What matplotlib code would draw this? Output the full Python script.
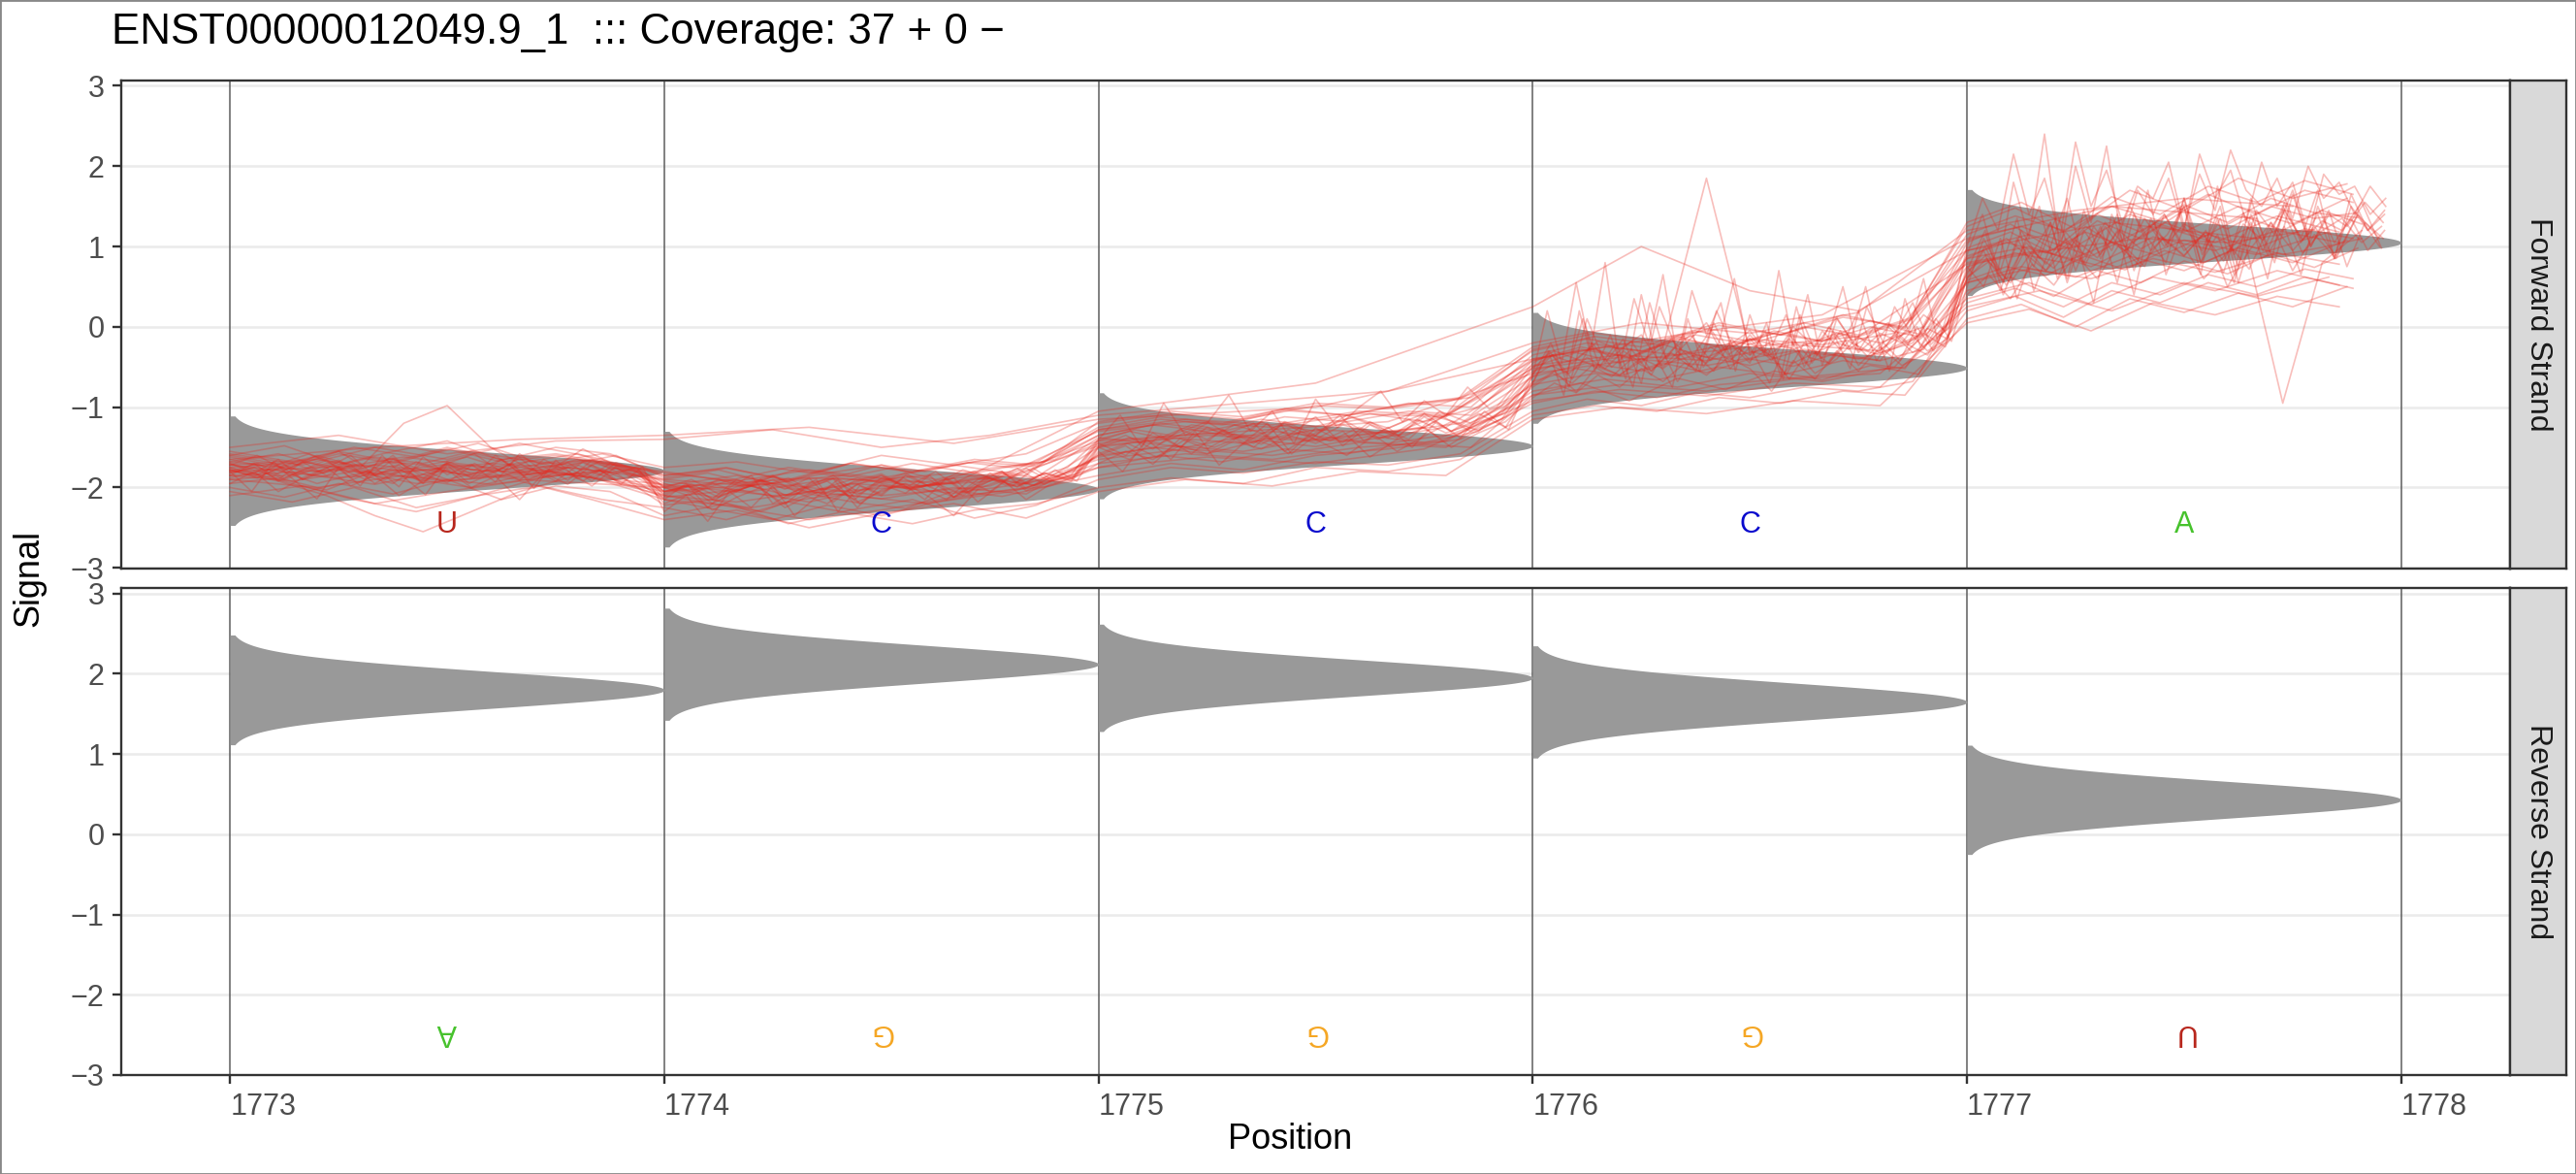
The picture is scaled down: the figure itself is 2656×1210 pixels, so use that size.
import numpy as np
import matplotlib
matplotlib.use("Agg")
import matplotlib.pyplot as plt
from matplotlib.patches import Rectangle

plt.rcParams['font.family'] = ['Liberation Sans', 'DejaVu Sans']

# ---------------- data ----------------
title = "ENST00000012049.9_1  ::: Coverage: 37 + 0 \u2212"
positions = [1773, 1774, 1775, 1776, 1777]
x_ticks = [1773, 1774, 1775, 1776, 1777, 1778]
y_ticks = [-3, -2, -1, 0, 1, 2, 3]
fwd_bases = ["U", "C", "C", "C", "A"]
rev_bases = ["A", "G", "G", "G", "U"]
fwd_mean = [-1.79, -2.02, -1.48, -0.51, 1.05]
fwd_sd = [0.227, 0.24, 0.22, 0.23, 0.22]
rev_mean = [1.80, 2.12, 1.95, 1.65, 0.43]
rev_sd = [0.228, 0.233, 0.223, 0.233, 0.227]
base_colors = {"A": "#46C22C", "C": "#0A0ACD", "G": "#F5A623", "U": "#B8261C"}
strip_labels = ["Forward Strand", "Reverse Strand"]

# 37 reads (forward strand), signal in hundredths, one group per position
reads = [
 "-170 -182 -165 -190 -176 -160 -185 -172 -194 -168 -178 -181 -163 -187 -175 -192 -169 -180|-205 -198 -214 -190 -202 -221 -196 -188 -209 -193 -185 -190 -212 -200 -182 -195 -188 -178|-160 -148 -171 -139 -152 -133 -146 -128 -140 -122 -131 -155 -136 -118 -129 -112|-72 -55 -81 -48 -60 -39 -52 -30 -45 -21 -35 -18 -27 -58 -40 -12 -33 -20 -8 -25|62 81 55 94 73 108 86 120 97 112 89 118 104 72 130 95 125 88 140 110",
 "-172 -188 -176 -183|-196 -210 -201 -192|-142 -130 -118|-58 -40 -25 -12|78 96 110 105 121",
 "-195 -188 -203 -179 -191 -200 -186 -175 -182|-222 -215 -230 -208 -219 -226 -204 -211 -198|-175 -160 -168 -152 -158 -145 -150|-85 -70 -92 -64 -78 -55 -66 -48 -59|45 62 38 70 55 82 66 91 74 98",
 "-160 -148 -171 -155 -142 -166 -150 -158|-185 -176 -190 -170 -181 -168 -174|-128 -115 -122 -104 -110 -96 -88|-42 -25 -38 -12 -28 -5 -18 8 -9|105 128 96 140 118 152 130 160 142 136",
 "-180 -205 -168 -192 -214 -175 -198 -160 -187 -209 -172 -195 -183 -170 -201 -166 -189 -178 -196 -174|-230 -210 -242 -205 -225 -198 -235 -212 -190 -220 -203 -196 -215 -188 -208 -182 -199 -176 -193 -185|-155 -180 -140 -165 -130 -172 -145 -120 -158 -135 -110 -142 -125 -150 -118 -138 -105 -128|-60 -20 -75 10 -45 -15 -70 25 -30 -55 5 -40 -10 -35 15 -50 -5 -28 20 -42 -8 30 -22 0|70 120 40 95 150 60 110 30 140 85 170 65 125 95 150 55 135 80 165 100 145 75 130 110",
 "-150 -135 -158 -142|-140 -128 -150 -135|-110 -95 -80|-20 5 -8 18|120 145 160 150",
 "-188 -176 -195 -182 -170 -190 -178 -185 -172 -193|-200 -212 -195 -206 -188 -201 -194 -183 -190|-162 -150 -158 -141 -149 -136 -144 -130|-68 -52 -61 -45 -57 -40 -49 -33 -42 -28|58 75 64 88 71 95 80 102 90 99 110",
 "-178 -192 -210 -235 -255 -230 -205 -188 -175|-215 -228 -240 -222 -235 -218 -206 -199|-185 -170 -178 -160 -152 -140|-95 -80 -88 -72 -65 -58 -50|30 48 25 55 40 65 50 72 60",
 "-165 -175 -158 -180 -168 -172 -162 -177 -170 -166 -174|-190 -182 -195 -178 -186 -172 -180 -169 -175 -165|-135 -122 -130 -115 -124 -108 -118 -100|-50 -32 -45 -22 -38 -15 -28 -8 -20 0|88 105 92 118 100 130 112 138 120 145 128",
 "-170 -185 -160 -175 -120 -98 -150 -180 -165 -178|-205 -190 -210 -195 -200 -188 -197|-150 -138 -145 -128 -132 -120|-62 -45 -55 -35 -48 -28 -40 -20|75 92 80 105 88 115 98 122 110",
 "-185 -170 -192 -178 -166 -188 -175 -199 -162 -184 -171 -193 -158 -180 -169 -187 -176 -181|-210 -198 -220 -205 -192 -214 -200 -189 -225 -196 -207 -185 -212 -194 -180 -201 -188 -178|-145 -160 -132 -150 -125 -140 -118 -135 -112 -148 -122 -138 -108 -130 -115 -98|-70 -30 -85 20 -55 -10 -65 40 -40 -75 10 -50 -20 60 -35 -5 -62 25 -45 -15 50 -30 0 -55 35 -25 10 -18|50 110 70 135 45 100 160 80 125 55 140 95 115 150 65 175 90 130 60 155 105 140 85 165 120 145",
 "-175 -168 -182 -171 -179 -165|-198 -185 -205 -190 -182 -195|-138 -150 -130 -142 -125|-55 -40 -60 -25 185 -30 -45 -20 -35 -10|85 100 75 112 95 120 105",
 "-180 -172 -190|-200 -188 -195|-105 -70|25 100 45 20|95 130 110",
 "-200 -212 -195 -208 -190 -215 -198 -205|-235 -220 -245 -228 -215 -238 -222|-190 -175 -182 -168 -172 -158|-105 -90 -98 -82 -88 -75 -80 -68|20 38 12 45 30 55 40 62 48",
 "-155 -168 -150 -162 -145 -170 -158|-175 -168 -182 -160 -172 -158|-120 -108 -115 -98 -102 -90|-30 -15 -25 -5 -18 5 -10 12|115 138 120 150 132 165 140 170 155",
 "-182 -175 -190 -168 -185 -172 -195 -178 -188 -170 -183 -176 -191 -165 -180 -198 -174 -186|-208 -196 -215 -202 -190 -210 -198 -185 -205 -192 -182 -199 -188 -218 -195 -176 -192 -184|-158 -145 -162 -140 -150 -135 -148 -130 -142 -125 -138 -115 -132 -120 -108|-75 -58 -70 -48 -62 -40 -55 -32 -50 -25 -42 -20 -35 -65 -28 -45 -12 -38 -22 -5 -30 -15|60 85 52 98 70 110 78 125 90 135 100 128 115 68 142 95 150 108 132 120 155 98",
 "-168 -180 -162 -175 -158|-192 -205 -188 -198 -185|-148 -135 -142 -125|-48 -35 -42 -22 -30|80 95 72 108 90 118",
 "-205 -218 -200 -225 -210 -198 -215|-225 -240 -218 -232 -245 -228 -220|-200 -188 -195 -175 -180 -165|-110 -98 -105 -88 -95 -80 -85|10 28 0 35 18 42 25 50",
 "-176 -185 -170 -182 -174 -190 -168 -180 -187 -172 -179 -184 -166 -178|-198 -206 -192 -200 -188 -210 -195 -185 -203 -191 -180 -197 -186 -175|-140 -128 -135 -118 -145 -122 -130 -112 -126 -108 -120 -100|-45 -30 -40 -18 -28 -10 -50 -22 5 -35 -15 -42 0 -25 12 -32 -8 -20 15 -5|90 140 70 180 110 240 95 200 130 225 105 170 140 185 120 215 160 195 130 205 150 180 115 190 165 175 140 160",
 "-190 -183 -196 -178 -188 -181|-212 -203 -218 -198 -207 -195|-165 -152 -160 -144 -150|-80 -65 -75 -58 -68 -50|55 72 60 85 68 92 78",
 "-172 -160 -178 -166 -155 -175 -163 -185 -170 -158 -181 -167 -174 -152 -169 -176|-215 -195 -225 -200 -185 -220 -205 -190 -230 -198 -210 -188 -202 -215 -192 -205 -185 -198 -178 -192|-150 -165 -135 -158 -128 -145 -120 -140 -160 -132 -115 -138 -125 -108|-58 -35 -65 -20 -50 -28 -60 -15 -40 -5 -52 -25 -70 -10 -38 -45 -18 -30 0 -22 -35 5|68 90 60 105 78 118 88 130 100 75 140 95 115 82 128 108 145 92 120 135 105 125",
 "-185 -178 -192 -180|-205 -195 -210 -198|-145 -132 -140 -125|-52 -38 -48 -30 -42|85 110 70 125 95 140 60 115 -95 80 120",
 "-162 -175 -158 -170 -152 -168 -160 -172|-180 -192 -175 -186 -170 -182 -168|-125 -112 -120 -102 -110 -95 -100|-35 -20 -30 -10 -22 0 -12 10|108 125 100 140 118 150 128 160",
 "-165 -150 -140|-135 -125 -145|-115 -100|-40 -10 15|110 150 135",
 "-195 -180 -205 -188 -175 -198 -185 -210 -192 -178 -200 -186 -215 -182 -196 -172 -190 -184|-220 -208 -228 -212 -200 -225 -210 -198 -218 -205 -195 -212 -235 -202 -190 -215 -196 -188|-170 -155 -165 -148 -158 -142 -152 -135 -145 -130 -162 -140 -125 -150 -132 -118|-88 -70 -82 -60 -75 -52 -68 -45 -60 -38 -52 -80 -42 -65 -30 -55 -25 -48 -35 -20|40 65 35 78 52 90 60 102 75 110 88 120 50 95 130 70 115 85 140 100",
 "-172 -165 -180 -170 -176|-190 -198 -185 -193 -180|-130 -118 -125 -108 -112|-40 -25 -35 -15 -22 -8|95 115 88 128 105 138 118",
 "-180 -170 -188 -175 -166 -184 -160 -192 -172 -178 -165 -190 -176 -169 -185 -174|-200 -190 -208 -195 -185 -202 -192 -215 -188 -198 -180 -205 -192 -176 -196 -184|-140 -110 -150 -95 -135 -120 -85 -130 -105 -145 -90 -125 -100 -80 -118 -92 -110 -75 -102 -88|-60 20 -45 55 -30 80 -50 35 -20 65 -40 45 -10 30 -55 15 -35 70 -25 40 -48 10 -15 50 -30 25 -5 60 -20 35|65 100 55 120 85 140 70 125 95 150 110 80 160 90 135 75 145 115 170 100 140 125 155 130",
 "-210 -198 -220 -205 -192 -215|-240 -228 -250 -232 -220 -238|-205 -190 -198 -180 -185|-115 -100 -108 -92 -98|5 22 -5 30 15 38 25",
 "-158 -172 -150 -165 -145 -162|-185 -175 -192 -170 -180 -165 -172|-128 -115 -122 -105 -110|-28 -12 -22 2 -10 12 0|125 148 118 162 140 175 155 182 165",
 "-178 -188 -172 -185 -176 -190 -165 -182 -194 -170 -186 -175 -192 -168 -181 -177|-195 -205 -190 -200 -186 -198 -210 -192 -183 -201 -195 -178 -188 -199 -182 -190|-142 -130 -138 -122 -128 -150 -118 -135 -110 -125 -140 -105 -120 -98|-50 -35 -45 -25 -38 -18 -55 -30 -10 -42 -22 -5 -35 -15 -48 0 -28 -12 5 -20 -2 -15|100 160 120 215 140 185 110 230 150 195 130 175 160 205 125 190 145 220 170 150 185 135 200 160 180 140 175 150",
 "-185 -192 -180 -195 -188 -178 -190|-210 -218 -205 -214 -200 -208|-160 -148 -155 -140 -145 -132|-72 -58 -66 -50 -60 -42 -52|55 75 62 88 70 98 80 108",
 "-175 -195 -215 -230 -210 -188 -178|-210 -225 -240 -228 -212 -200|-170 -158 -165 -150 -142|-85 -72 -80 -65 -58|35 55 28 62 45 70 52",
 "-168 -158 -175 -162 -170 -155 -165 -172 -160|-188 -178 -195 -182 -172 -190 -176 -168|-135 -120 -130 -112 -118 -105 -110|-42 -28 -38 -15 -25 -8 -18 0 -12|98 118 90 132 110 145 122 150 135 142",
 "-182 -174 -190 -178 -168 -186 -195 -172 -180 -188 -165 -184 -176 -192 -170 -181|-205 -196 -212 -200 -190 -208 -220 -198 -185 -203 -194 -210 -188 -199 -182 -192|-150 -138 -145 -128 -135 -120 -155 -132 -118 -140 -125 -110 -130 -115|-62 -48 -58 -38 -52 -30 -45 -22 -68 -35 -55 -15 -42 -28 -60 -20 -38 -5 -48 -25 -10 -32 -18 -2|75 50 110 35 95 130 60 145 85 120 40 135 100 160 80 115 55 140 90 125 65 150 105 135 95 120",
 "-190 -200 -185 -196 -182|-215 -225 -208 -220 -205|-175 -162 -170 -152|-92 -78 -86 -70 -75|25 45 20 55 38 62",
 "-160 -172 -155 -168 -150 -165 -158 -170|-182 -192 -178 -188 -172 -185|-118 -105 -112 -95 -100 -88|-25 -8 -18 5 -10 15 -2|130 155 122 170 145 185 160 178",
 "-178 -186 -172 -190 -180 -168 -184 -176 -195 -170 -188 -160 -182 -174 -191 -166 -180 -185|-200 -210 -195 -205 -190 -202 -188 -218 -196 -208 -185 -199 -212 -190 -180 -204 -192 -186|-148 -135 -152 -128 -140 -122 -132 -158 -126 -144 -118 -136 -112 -130 -108 -125|-70 -30 -60 10 -50 -20 -75 30 -40 -10 -55 20 -25 -45 5 -65 15 -35 -8 -52 25 -20 -42 0 -30 12|60 95 45 110 75 130 55 120 90 140 70 125 105 150 80 135 65 160 95 145 110 170 85 150 120 140",
]

# ---------------- layout ----------------
W, H = 2656, 1210
DPI = 200
fig = plt.figure(figsize=(W / DPI, H / DPI), dpi=DPI)


def rect(l, t, r, b):
    return [l / W, 1 - b / H, (r - l) / W, (b - t) / H]


PL, PR = 125.3, 2587.7
SR = 2645.7
panels = [(82.7, 585.7), (606.0, 1108.4)]
XLIM = (1772.75, 1778.25)
YLIM = (-3.005, 3.07)
border_c = "#333333"
tick_c = "#4D4D4D"

axes = []
for k, (t, b) in enumerate(panels):
    ax = fig.add_axes(rect(PL, t, PR, b))
    ax.set_xlim(*XLIM)
    ax.set_ylim(*YLIM)
    ax.set_yticks(y_ticks)
    ax.set_yticklabels([str(v).replace("-", "\u2212") for v in y_ticks])
    ax.set_xticks(x_ticks)
    for s in ax.spines.values():
        s.set_color(border_c)
        s.set_linewidth(0.85)
    ax.tick_params(axis="both", direction="out", length=3.2, width=0.85,
                   color=border_c, labelcolor=tick_c, labelsize=11, pad=3.2)
    for v in y_ticks:
        ax.axhline(v, color="#EBEBEB", lw=0.9, zorder=0)
    for xv in x_ticks:
        ax.axvline(xv, color="#5E5E5E", lw=0.55, zorder=1)
    # strip
    sax = fig.add_axes(rect(PR, t, SR, b))
    sax.set_facecolor("#D9D9D9")
    sax.set_xticks([])
    sax.set_yticks([])
    for s in sax.spines.values():
        s.set_color(border_c)
        s.set_linewidth(0.85)
    sax.text(0.5, 0.5, strip_labels[k], rotation=-90, ha="center", va="center",
             fontsize=11.5, color="#1A1A1A", transform=sax.transAxes)
    axes.append(ax)

ax_f, ax_r = axes
ax_f.tick_params(axis="x", bottom=False, labelbottom=False)
for lab in ax_r.get_xticklabels():
    lab.set_horizontalalignment("left")


def model_shape(ax, pos, mu, sd):
    y = np.linspace(mu - 3 * sd, mu + 3 * sd, 400)
    w = np.exp(-0.5 * ((y - mu) / sd) ** 2)
    ax.fill_betweenx(y, pos, pos + w, color="#999999", lw=0, zorder=2)


for i, p in enumerate(positions):
    model_shape(ax_f, p, fwd_mean[i], fwd_sd[i])
    model_shape(ax_r, p, rev_mean[i], rev_sd[i])
    ax_f.text(p + 0.5, -2.47, fwd_bases[i], color=base_colors[fwd_bases[i]],
              ha="center", va="center", fontsize=11, zorder=5)
    ax_r.text(p + 0.5, -2.47, rev_bases[i], color=base_colors[rev_bases[i]],
              ha="center", va="center", fontsize=11, rotation=180, zorder=5)

# reads
for r in reads:
    groups = r.split("|")
    xs, ys = [], []
    for i, g in enumerate(groups):
        vals = [int(v) / 100.0 for v in g.split()]
        n = len(vals)
        xs.extend(positions[i] + np.arange(n) / n)
        ys.extend(vals)
    ax_f.plot(xs, ys, color="#E8281E", alpha=0.3, lw=0.6, zorder=3)

# titles
fig.text(115 / W, 1 - 34 / H, title, ha="left", va="center", fontsize=15.8, color="black")
fig.text(30 / W, 1 - 596 / H, "Signal", rotation=90, ha="center", va="center",
         fontsize=13, color="black")
fig.text(1330 / W, 1 - 1174 / H, "Position", ha="center", va="center",
         fontsize=13, color="black")

# outer frame
fig.patches.append(Rectangle((0, 0), 1, 1, transform=fig.transFigure, fill=False,
                             edgecolor="#888888", lw=1.0))

fig.savefig("out.png", dpi=DPI)
